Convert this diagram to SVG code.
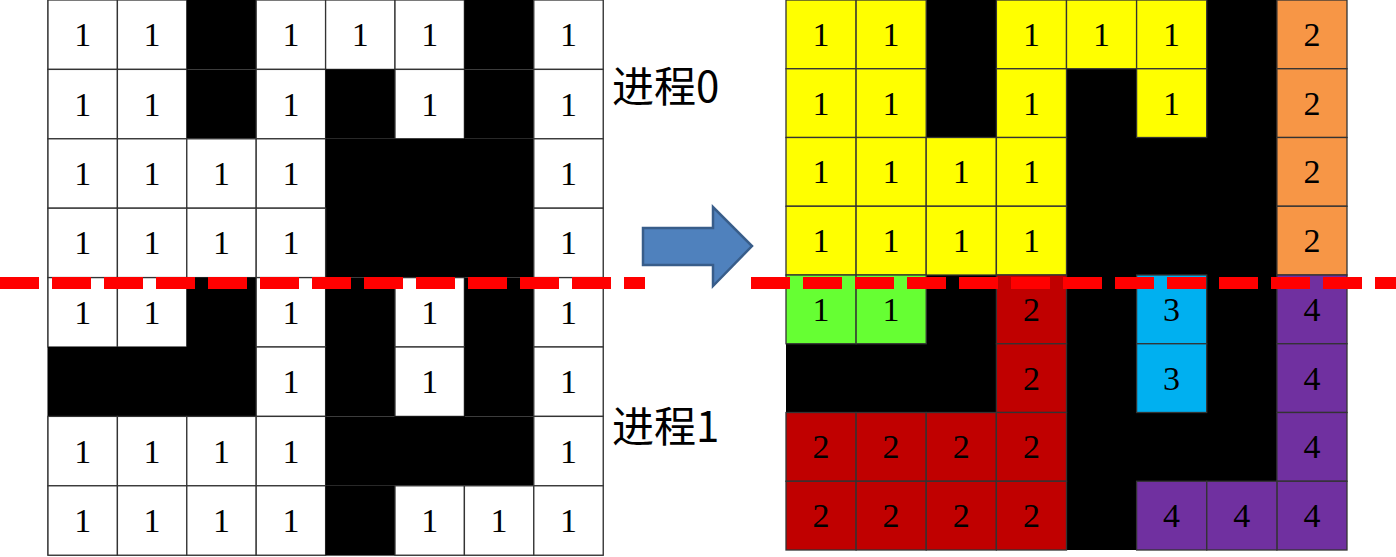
<svg xmlns="http://www.w3.org/2000/svg" width="1396" height="557" viewBox="0 0 1396 557">
<style>
.c{stroke:#333;stroke-width:1.3}
.b{fill:#000}
.t{font-family:"Liberation Serif",serif;font-size:34px;text-anchor:middle;dominant-baseline:central;fill:#000}
.lbl{font-family:"Noto Sans CJK SC",sans-serif;font-size:42px;fill:#000}
</style>
<rect width="1396" height="557" fill="#fff"/>
<g id="left-grid">
<rect x="48" y="0" width="555" height="555" fill="#fff" stroke="#333" stroke-width="1.3"/>
<g id="left-cells"></g>
</g>
<g id="L" transform="translate(48,0)">
<!-- row0 -->
<g><rect class="c" fill="#fff" x="0" y="0" width="69.4" height="69.4"/><text class="t" x="34.7" y="34.7">1</text></g>
<g><rect class="c" fill="#fff" x="69.4" y="0" width="69.4" height="69.4"/><text class="t" x="104.1" y="34.7">1</text></g>
<rect class="b" x="138.8" y="0" width="69.4" height="69.4"/>
<g><rect class="c" fill="#fff" x="208.2" y="0" width="69.4" height="69.4"/><text class="t" x="242.9" y="34.7">1</text></g>
<g><rect class="c" fill="#fff" x="277.6" y="0" width="69.4" height="69.4"/><text class="t" x="312.3" y="34.7">1</text></g>
<g><rect class="c" fill="#fff" x="347" y="0" width="69.4" height="69.4"/><text class="t" x="381.7" y="34.7">1</text></g>
<rect class="b" x="416.4" y="0" width="69.4" height="69.4"/>
<g><rect class="c" fill="#fff" x="485.8" y="0" width="69.4" height="69.4"/><text class="t" x="520.5" y="34.7">1</text></g>
<!-- row1 -->
<g><rect class="c" fill="#fff" x="0" y="69.4" width="69.4" height="69.4"/><text class="t" x="34.7" y="104.1">1</text></g>
<g><rect class="c" fill="#fff" x="69.4" y="69.4" width="69.4" height="69.4"/><text class="t" x="104.1" y="104.1">1</text></g>
<rect class="b" x="138.8" y="69.4" width="69.4" height="69.4"/>
<g><rect class="c" fill="#fff" x="208.2" y="69.4" width="69.4" height="69.4"/><text class="t" x="242.9" y="104.1">1</text></g>
<rect class="b" x="277.6" y="69.4" width="69.4" height="69.4"/>
<g><rect class="c" fill="#fff" x="347" y="69.4" width="69.4" height="69.4"/><text class="t" x="381.7" y="104.1">1</text></g>
<rect class="b" x="416.4" y="69.4" width="69.4" height="69.4"/>
<g><rect class="c" fill="#fff" x="485.8" y="69.4" width="69.4" height="69.4"/><text class="t" x="520.5" y="104.1">1</text></g>
<!-- row2 -->
<g><rect class="c" fill="#fff" x="0" y="138.8" width="69.4" height="69.4"/><text class="t" x="34.7" y="173.5">1</text></g>
<g><rect class="c" fill="#fff" x="69.4" y="138.8" width="69.4" height="69.4"/><text class="t" x="104.1" y="173.5">1</text></g>
<g><rect class="c" fill="#fff" x="138.8" y="138.8" width="69.4" height="69.4"/><text class="t" x="173.5" y="173.5">1</text></g>
<g><rect class="c" fill="#fff" x="208.2" y="138.8" width="69.4" height="69.4"/><text class="t" x="242.9" y="173.5">1</text></g>
<rect class="b" x="277.6" y="138.8" width="208.2" height="138.8"/>
<g><rect class="c" fill="#fff" x="485.8" y="138.8" width="69.4" height="69.4"/><text class="t" x="520.5" y="173.5">1</text></g>
<!-- row3 -->
<g><rect class="c" fill="#fff" x="0" y="208.2" width="69.4" height="69.4"/><text class="t" x="34.7" y="242.9">1</text></g>
<g><rect class="c" fill="#fff" x="69.4" y="208.2" width="69.4" height="69.4"/><text class="t" x="104.1" y="242.9">1</text></g>
<g><rect class="c" fill="#fff" x="138.8" y="208.2" width="69.4" height="69.4"/><text class="t" x="173.5" y="242.9">1</text></g>
<g><rect class="c" fill="#fff" x="208.2" y="208.2" width="69.4" height="69.4"/><text class="t" x="242.9" y="242.9">1</text></g>
<g><rect class="c" fill="#fff" x="485.8" y="208.2" width="69.4" height="69.4"/><text class="t" x="520.5" y="242.9">1</text></g>
<!-- row4 -->
<g><rect class="c" fill="#fff" x="0" y="277.6" width="69.4" height="69.4"/><text class="t" x="34.7" y="312.3">1</text></g>
<g><rect class="c" fill="#fff" x="69.4" y="277.6" width="69.4" height="69.4"/><text class="t" x="104.1" y="312.3">1</text></g>
<rect class="b" x="138.8" y="277.6" width="69.4" height="69.4"/>
<g><rect class="c" fill="#fff" x="208.2" y="277.6" width="69.4" height="69.4"/><text class="t" x="242.9" y="312.3">1</text></g>
<rect class="b" x="277.6" y="277.6" width="69.4" height="69.4"/>
<g><rect class="c" fill="#fff" x="347" y="277.6" width="69.4" height="69.4"/><text class="t" x="381.7" y="312.3">1</text></g>
<rect class="b" x="416.4" y="277.6" width="69.4" height="69.4"/>
<g><rect class="c" fill="#fff" x="485.8" y="277.6" width="69.4" height="69.4"/><text class="t" x="520.5" y="312.3">1</text></g>
<!-- row5 -->
<rect class="b" x="0" y="347" width="208.2" height="69.4"/>
<g><rect class="c" fill="#fff" x="208.2" y="347" width="69.4" height="69.4"/><text class="t" x="242.9" y="381.7">1</text></g>
<rect class="b" x="277.6" y="347" width="69.4" height="69.4"/>
<g><rect class="c" fill="#fff" x="347" y="347" width="69.4" height="69.4"/><text class="t" x="381.7" y="381.7">1</text></g>
<rect class="b" x="416.4" y="347" width="69.4" height="69.4"/>
<g><rect class="c" fill="#fff" x="485.8" y="347" width="69.4" height="69.4"/><text class="t" x="520.5" y="381.7">1</text></g>
<!-- row6 -->
<g><rect class="c" fill="#fff" x="0" y="416.4" width="69.4" height="69.4"/><text class="t" x="34.7" y="451.1">1</text></g>
<g><rect class="c" fill="#fff" x="69.4" y="416.4" width="69.4" height="69.4"/><text class="t" x="104.1" y="451.1">1</text></g>
<g><rect class="c" fill="#fff" x="138.8" y="416.4" width="69.4" height="69.4"/><text class="t" x="173.5" y="451.1">1</text></g>
<g><rect class="c" fill="#fff" x="208.2" y="416.4" width="69.4" height="69.4"/><text class="t" x="242.9" y="451.1">1</text></g>
<rect class="b" x="277.6" y="416.4" width="208.2" height="69.4"/>
<g><rect class="c" fill="#fff" x="485.8" y="416.4" width="69.4" height="69.4"/><text class="t" x="520.5" y="451.1">1</text></g>
<!-- row7 -->
<g><rect class="c" fill="#fff" x="0" y="485.8" width="69.4" height="69.4"/><text class="t" x="34.7" y="520.5">1</text></g>
<g><rect class="c" fill="#fff" x="69.4" y="485.8" width="69.4" height="69.4"/><text class="t" x="104.1" y="520.5">1</text></g>
<g><rect class="c" fill="#fff" x="138.8" y="485.8" width="69.4" height="69.4"/><text class="t" x="173.5" y="520.5">1</text></g>
<g><rect class="c" fill="#fff" x="208.2" y="485.8" width="69.4" height="69.4"/><text class="t" x="242.9" y="520.5">1</text></g>
<rect class="b" x="277.6" y="485.8" width="69.4" height="69.4"/>
<g><rect class="c" fill="#fff" x="347" y="485.8" width="69.4" height="69.4"/><text class="t" x="381.7" y="520.5">1</text></g>
<g><rect class="c" fill="#fff" x="416.4" y="485.8" width="69.4" height="69.4"/><text class="t" x="451.1" y="520.5">1</text></g>
<g><rect class="c" fill="#fff" x="485.8" y="485.8" width="69.4" height="69.4"/><text class="t" x="520.5" y="520.5">1</text></g>
</g>
<g id="R" transform="translate(786,0)">
<rect x="0" y="0" width="561" height="550" fill="#000"/>
<!-- yellow -->
<g fill="#ffff00">
<rect class="c" x="0" y="0" width="70.1" height="68.75"/><rect class="c" x="70.1" y="0" width="70.1" height="68.75"/>
<rect class="c" x="210.4" y="0" width="70.1" height="68.75"/><rect class="c" x="280.5" y="0" width="70.1" height="68.75"/><rect class="c" x="350.6" y="0" width="70.1" height="68.75"/>
<rect class="c" x="0" y="68.75" width="70.1" height="68.75"/><rect class="c" x="70.1" y="68.75" width="70.1" height="68.75"/>
<rect class="c" x="210.4" y="68.75" width="70.1" height="68.75"/><rect class="c" x="350.6" y="68.75" width="70.1" height="68.75"/>
<rect class="c" x="0" y="137.5" width="70.1" height="68.75"/><rect class="c" x="70.1" y="137.5" width="70.1" height="68.75"/><rect class="c" x="140.2" y="137.5" width="70.1" height="68.75"/><rect class="c" x="210.4" y="137.5" width="70.1" height="68.75"/>
<rect class="c" x="0" y="206.25" width="70.1" height="68.75"/><rect class="c" x="70.1" y="206.25" width="70.1" height="68.75"/><rect class="c" x="140.2" y="206.25" width="70.1" height="68.75"/><rect class="c" x="210.4" y="206.25" width="70.1" height="68.75"/>
</g>
<g fill="#f79646">
<rect class="c" x="490.9" y="0" width="70.1" height="68.75"/><rect class="c" x="490.9" y="68.75" width="70.1" height="68.75"/><rect class="c" x="490.9" y="137.5" width="70.1" height="68.75"/><rect class="c" x="490.9" y="206.25" width="70.1" height="68.75"/>
</g>
<g fill="#66ff33">
<rect class="c" x="0" y="275" width="70.1" height="68.75"/><rect class="c" x="70.1" y="275" width="70.1" height="68.75"/>
</g>
<g fill="#c00000">
<rect class="c" x="210.4" y="275" width="70.1" height="68.75"/><rect class="c" x="210.4" y="343.75" width="70.1" height="68.75"/>
<rect class="c" x="0" y="412.5" width="70.1" height="68.75"/><rect class="c" x="70.1" y="412.5" width="70.1" height="68.75"/><rect class="c" x="140.2" y="412.5" width="70.1" height="68.75"/><rect class="c" x="210.4" y="412.5" width="70.1" height="68.75"/>
<rect class="c" x="0" y="481.25" width="70.1" height="68.75"/><rect class="c" x="70.1" y="481.25" width="70.1" height="68.75"/><rect class="c" x="140.2" y="481.25" width="70.1" height="68.75"/><rect class="c" x="210.4" y="481.25" width="70.1" height="68.75"/>
</g>
<g fill="#00b0f0">
<rect class="c" x="350.6" y="275" width="70.1" height="68.75"/><rect class="c" x="350.6" y="343.75" width="70.1" height="68.75"/>
</g>
<g fill="#7030a0">
<rect class="c" x="490.9" y="275" width="70.1" height="68.75"/><rect class="c" x="490.9" y="343.75" width="70.1" height="68.75"/><rect class="c" x="490.9" y="412.5" width="70.1" height="68.75"/><rect class="c" x="490.9" y="481.25" width="70.1" height="68.75"/>
<rect class="c" x="350.6" y="481.25" width="70.1" height="68.75"/><rect class="c" x="420.8" y="481.25" width="70.1" height="68.75"/>
</g>
<g>
<text class="t" x="35" y="34.4">1</text><text class="t" x="105" y="34.4">1</text><text class="t" x="245.5" y="34.4">1</text><text class="t" x="315.5" y="34.4">1</text><text class="t" x="385.6" y="34.4">1</text><text class="t" x="526" y="34.4">2</text>
<text class="t" x="35" y="103.1">1</text><text class="t" x="105" y="103.1">1</text><text class="t" x="245.5" y="103.1">1</text><text class="t" x="385.6" y="103.1">1</text><text class="t" x="526" y="103.1">2</text>
<text class="t" x="35" y="171.9">1</text><text class="t" x="105" y="171.9">1</text><text class="t" x="175.3" y="171.9">1</text><text class="t" x="245.5" y="171.9">1</text><text class="t" x="526" y="171.9">2</text>
<text class="t" x="35" y="240.6">1</text><text class="t" x="105" y="240.6">1</text><text class="t" x="175.3" y="240.6">1</text><text class="t" x="245.5" y="240.6">1</text><text class="t" x="526" y="240.6">2</text>
<text class="t" x="35" y="309.4">1</text><text class="t" x="105" y="309.4">1</text><text class="t" x="245.5" y="309.4">2</text><text class="t" x="385.6" y="309.4">3</text><text class="t" x="526" y="309.4">4</text>
<text class="t" x="245.5" y="378.1">2</text><text class="t" x="385.6" y="378.1">3</text><text class="t" x="526" y="378.1">4</text>
<text class="t" x="35" y="446.9">2</text><text class="t" x="105" y="446.9">2</text><text class="t" x="175.3" y="446.9">2</text><text class="t" x="245.5" y="446.9">2</text><text class="t" x="526" y="446.9">4</text>
<text class="t" x="35" y="515.6">2</text><text class="t" x="105" y="515.6">2</text><text class="t" x="175.3" y="515.6">2</text><text class="t" x="245.5" y="515.6">2</text><text class="t" x="385.6" y="515.6">4</text><text class="t" x="455.8" y="515.6">4</text><text class="t" x="526" y="515.6">4</text>
</g>
</g>
<g id="arrow">
<path d="M643,228 H713 V207 L752,246 L713,286 V265 H643 Z" fill="#4f81bd" stroke="#385d8a" stroke-width="2.5"/>
</g>
<g id="labels">
<text class="lbl" x="612" y="102">进程0</text>
<text class="lbl" x="612" y="442">进程1</text>
</g>
<g id="connectors" stroke="#ff0000" stroke-width="12" stroke-dasharray="39 13">
<line x1="0" y1="283" x2="645" y2="283"/>
<line x1="751" y1="283" x2="1396" y2="283"/>
</g>
</svg>
